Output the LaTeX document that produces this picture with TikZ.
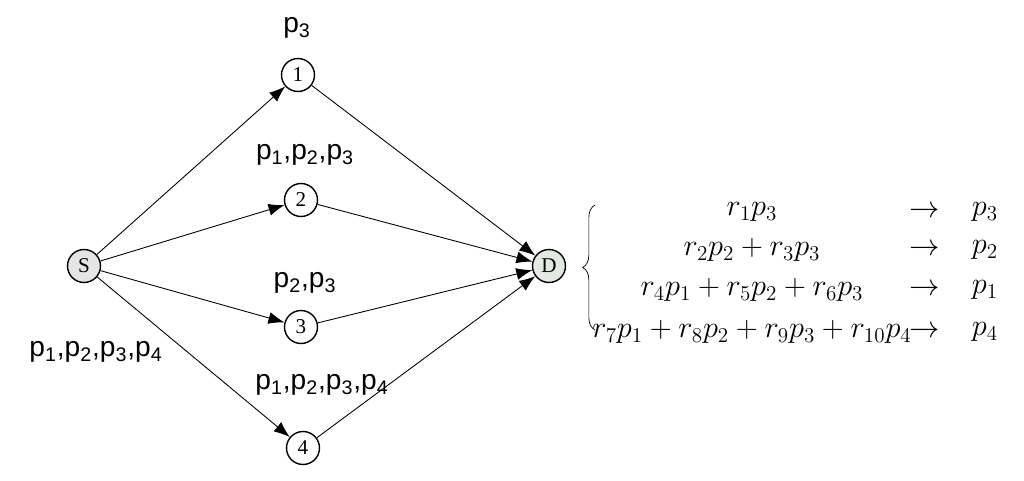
\documentclass[tikz,border=0pt]{standalone}
\usepackage{fontspec}
\setmainfont{Liberation Serif}
\newfontfamily\lab{Liberation Sans}
\usetikzlibrary{arrows.meta,decorations.pathreplacing}
\tikzset{
 vtx/.style={circle,draw,thick,minimum size=0.66cm,inner sep=0pt,font=\fontsize{12}{14}\selectfont},
 edge/.style={-{Latex[length=3.2mm,width=2.4mm]},line width=0.5pt},
 lbl/.style={font=\lab\fontsize{16}{18}\selectfont},
 eq/.style={font=\fontsize{17}{20}\selectfont}
}
\newcommand{\sub}[1]{\textsubscript{#1}}
\begin{document}
\begin{tikzpicture}[x=0.02cm,y=-0.02cm]
\useasboundingbox (0,0) rectangle (1024,480);
\node[vtx,fill=gray!20] (S) at (84,266) {S};
\node[vtx] (n1) at (298,75) {1};
\node[vtx] (n2) at (301,200) {2};
\node[vtx] (n3) at (301,327) {3};
\node[vtx] (n4) at (303,448) {4};
\node[vtx,fill=green!8!gray!20] (D) at (549,266) {D};
\foreach \n in {n1,n2,n3,n4}{\draw[edge] (S) -- (\n); \draw[edge] (\n) -- (D);}
\node[lbl] (l1) at (297,28) {p\sub{3}};
\node[lbl] (l2) at (305,155) {p\sub{1},p\sub{2},p\sub{3}};
\node[lbl] (l3) at (305,283) {p\sub{2},p\sub{3}};
\node[lbl] (l4) at (322,385) {p\sub{1},p\sub{2},p\sub{3},p\sub{4}};
\node[lbl] (l0) at (96,352) {p\sub{1},p\sub{2},p\sub{3},p\sub{4}};
\draw[decorate,decoration={brace,amplitude=7pt,mirror}] (595,205) coordinate (b1) -- (595,330) coordinate (b2);
\node[eq] (e1) at (752,212) {$r_1p_3$};
\node[eq] (e2) at (752,250) {$r_2p_2+r_3p_3$};
\node[eq] (e3) at (752,290) {$r_4p_1+r_5p_2+r_6p_3$};
\node[eq] (e4) at (752,332) {$r_7p_1+r_8p_2+r_9p_3+r_{10}p_4$};
\foreach \y/\p [count=\i] in {212/3,250/2,290/1,332/4}{
 \node[eq] (a\i) at (925,\y) {$\rightarrow$};
 \node[eq] (p\i) at (985,\y) {$p_{\p}$};}
\end{tikzpicture}
\end{document}
